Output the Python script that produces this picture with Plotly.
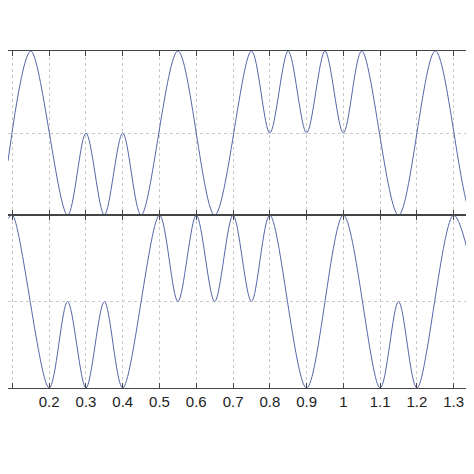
import plotly.graph_objects as go
from plotly.subplots import make_subplots

# key points (extrema and cusps)
top_x = [0.088, 0.15, 0.25, 0.30, 0.35, 0.40, 0.45, 0.55, 0.65, 0.75, 0.80, 0.85, 0.90,
         0.95, 1.00, 1.05, 1.15, 1.25, 1.35, 1.377]
top_y = [0.33, 1.0, 0.0, 0.5, 0.0, 0.5, 0.0, 1.0, 0.0, 1.0, 0.5, 1.0, 0.5,
         1.0, 0.5, 1.0, 0.0, 1.0, 0.0, 0.05]

bot_x = [0.088, 0.10, 0.20, 0.25, 0.30, 0.35, 0.40, 0.50, 0.55, 0.60, 0.65, 0.70, 0.75,
         0.80, 0.90, 1.00, 1.10, 1.15, 1.20, 1.30, 1.377]
bot_y = [0.98, 1.0, 0.0, 0.5, 0.0, 0.5, 0.0, 1.0, 0.5, 1.0, 0.5, 1.0, 0.5,
         1.0, 0.0, 1.0, 0.0, 0.5, 0.0, 1.0, 0.4]

tick_vals = [0.1, 0.2, 0.3, 0.4, 0.5, 0.6, 0.7, 0.8, 0.9, 1.0, 1.1, 1.2, 1.3]
tick_text = ["0.1", "0.2", "0.3", "0.4", "0.5", "0.6", "0.7", "0.8", "0.9", "1", "1.1", "1.2", "1.3"]

line_color = "#5568a8"

fig = make_subplots(rows=2, cols=1, shared_xaxes=True, vertical_spacing=0,
                    row_heights=[0.487, 0.513])

fig.add_trace(go.Scatter(x=top_x, y=top_y, mode="lines",
                         line=dict(color=line_color, width=1, shape="spline", smoothing=0.9)),
              row=1, col=1)
fig.add_trace(go.Scatter(x=bot_x, y=bot_y, mode="lines",
                         line=dict(color=line_color, width=1, shape="spline", smoothing=0.9)),
              row=2, col=1)

for r in (1, 2):
    fig.update_xaxes(range=[0.088, 1.377], tickvals=tick_vals, ticktext=tick_text,
                     showline=True, linecolor="#444444", linewidth=1, mirror="ticks",
                     ticks="inside", ticklen=5, tickcolor="#444444",
                     showgrid=True, gridcolor="#c8c8c8", griddash="dot", gridwidth=1,
                     zeroline=False, automargin=False, row=r, col=1)
    fig.update_yaxes(range=[0, 1], tickvals=[0.5], showticklabels=False,
                     showline=False, showgrid=True, gridcolor="#c8c8c8", griddash="dot",
                     zeroline=False, automargin=False, row=r, col=1)

fig.update_xaxes(showticklabels=False, row=1, col=1)
fig.update_xaxes(showticklabels=True, tickfont=dict(family="Liberation Sans", size=15, color="#222222"),
                 row=2, col=1)

fig.update_layout(width=474, height=474, showlegend=False,
                  margin=dict(l=0, r=0, t=43, b=94, autoexpand=False),
                  plot_bgcolor="white", paper_bgcolor="white")

fig.write_html("out.html")
